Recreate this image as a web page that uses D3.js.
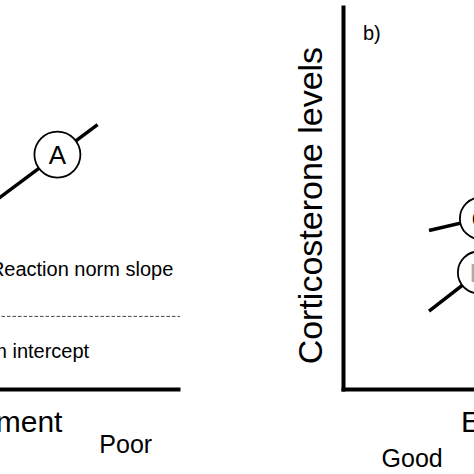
<!DOCTYPE html>
<html>
<head>
<meta charset="utf-8">
<script src="https://cdn.jsdelivr.net/npm/d3@7"></script>
<style>
  html, body { margin: 0; padding: 0; background: #fff; }
  svg { display: block; }
  text { font-family: "Liberation Sans", Arial, sans-serif; fill: #000; }
</style>
</head>
<body>
<div id="chart"></div>
<script>
// Panels and axis wording
const panelIds = ['a', 'b'];
const panelTags = ['a)', 'b)'];
const envLabels = ['Good', 'Poor'];
const xTitle = 'Environment';
const yTitle = 'Corticosterone levels';

// Reaction norms (environment 0 = good .. 10 = poor, corticosterone 0..10)
const normIds = ['A', 'C', 'D'];
const normPanel = ['a', 'b', 'b'];
const normEnvStart = [3.0, 2.14, 2.14];
const normEnvEnd = [8.0, 4.3, 4.3];
const normCortStart = [3.0, 4.15, 2.04];
const normCortEnd = [6.92, 4.68, 3.80];
const normLabelEnv = [7.0, 3.43, 3.38];
const normLetterColor = ['#000', '#000', '#aaa'];

// Annotation in panel a
const splitLevel = 1.9;
const noteText = ['Reaction norm slope', 'Reaction norm intercept'];

window.addEventListener('DOMContentLoaded', function() {
  const width = 474, height = 474;

  const svg = d3.select('#chart')
    .append('svg')
    .attr('width', width)
    .attr('height', height);

  // layout of each panel in page pixels (panel a mostly lies left of the view)
  const layout = {
    a: { x0: -224, x1: 178 },
    b: { x0: 343, x1: 745 }
  };
  const yTop = 7, yBottom = 389;

  const y = d3.scaleLinear().domain([0, 10]).range([yBottom, yTop]);

  // only draw texts that reach into the view
  function inView(px, w) { return px + w > 0 && px - w < width; }

  panelIds.forEach((id, i) => {
    const L = layout[id];
    const x = d3.scaleLinear().domain([0, 10]).range([L.x0, L.x1]);
    const g = svg.append('g');

    // axes: plain thick lines, no ticks
    const xAxis = g.append('g')
      .attr('transform', `translate(0,${yBottom})`)
      .call(d3.axisBottom(x).tickValues([]).tickSizeOuter(0));
    const yAxis = g.append('g')
      .attr('transform', `translate(${L.x0},0)`)
      .call(d3.axisLeft(y).tickValues([]).tickSizeOuter(0));
    [xAxis, yAxis].forEach(a => a.select('.domain')
      .attr('stroke', '#000')
      .attr('stroke-width', 4)
      .attr('stroke-linecap', 'square'));

    // titles
    g.append('text')
      .attr('x', x(5.03))
      .attr('y', 432)
      .attr('text-anchor', 'middle')
      .attr('font-size', 30)
      .text(xTitle);

    if (inView(L.x0 - 21, 20)) {
      g.append('text')
        .attr('transform', `translate(${L.x0 - 21},${y(4.8)}) rotate(-90)`)
        .attr('text-anchor', 'middle')
        .attr('font-size', 34)
        .text(yTitle);
    }

    if (inView(L.x0 + 20, 0)) {
      g.append('text')
        .attr('x', L.x0 + 20)
        .attr('y', 40)
        .attr('font-size', 20)
        .text(panelTags[i]);
    }

    // environment quality labels
    if (inView(x(1.72), 30)) {
      g.append('text')
        .attr('x', x(1.72))
        .attr('y', 467)
        .attr('text-anchor', 'middle')
        .attr('font-size', 25)
        .text(envLabels[0]);
    }
    if (inView(x(8.7), 30)) {
      g.append('text')
        .attr('x', x(8.7))
        .attr('y', 453)
        .attr('text-anchor', 'middle')
        .attr('font-size', 25)
        .text(envLabels[1]);
    }

    if (id === 'a') {
      g.append('line')
        .attr('x1', x(0)).attr('x2', x(10.05))
        .attr('y1', y(splitLevel)).attr('y2', y(splitLevel))
        .attr('stroke', '#444')
        .attr('stroke-width', 1)
        .attr('stroke-dasharray', '3.5,2');

      g.append('text')
        .attr('x', x(5.32))
        .attr('y', y(2.96))
        .attr('font-size', 20)
        .text(noteText[0]);
      g.append('text')
        .attr('x', x(7.79))
        .attr('y', y(0.81))
        .attr('text-anchor', 'end')
        .attr('font-size', 20)
        .text(noteText[1]);
    }

    // reaction norm lines with labelled circles
    const norms = normIds.map((n, k) => ({
      id: n,
      panel: normPanel[k],
      e0: normEnvStart[k], e1: normEnvEnd[k],
      c0: normCortStart[k], c1: normCortEnd[k],
      le: normLabelEnv[k],
      color: normLetterColor[k]
    })).filter(d => d.panel === id);

    const lineGen = d3.line().x(d => x(d[0])).y(d => y(d[1]));

    g.append('g')
      .selectAll('path')
      .data(norms)
      .join('path')
      .attr('d', d => lineGen([[d.e0, d.c0], [d.e1, d.c1]]))
      .attr('fill', 'none')
      .attr('stroke', '#000')
      .attr('stroke-width', 3.5);

    const marker = g.append('g')
      .selectAll('g')
      .data(norms)
      .join('g')
      .attr('transform', d => {
        const c = d.c0 + (d.c1 - d.c0) * (d.le - d.e0) / (d.e1 - d.e0);
        return `translate(${x(d.le)},${y(c)})`;
      });

    marker.append('circle')
      .attr('r', id === 'a' ? 23 : 21)
      .attr('fill', '#fff')
      .attr('stroke', '#000')
      .attr('stroke-width', 1.8);

    marker.append('text')
      .attr('dy', '0.36em')
      .attr('text-anchor', 'middle')
      .attr('font-size', 26)
      .style('fill', d => d.color)
      .text(d => d.id);
  });
});
</script>
</body>
</html>
